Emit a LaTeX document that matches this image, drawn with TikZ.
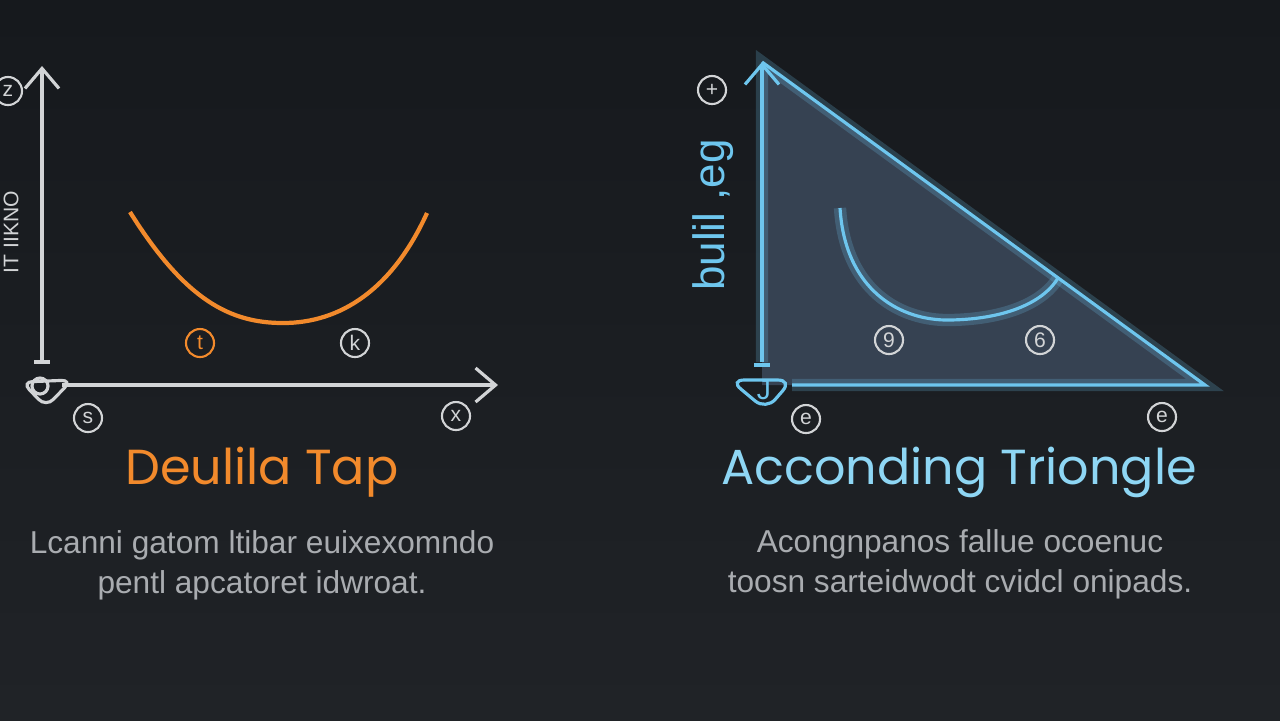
\documentclass[tikz,border=0pt]{standalone}
\usepackage{fontspec}
\setmainfont{Liberation Sans}
\newfontfamily\titlefont{Poppins}
\usetikzlibrary{arrows.meta}
\definecolor{bgtop}{HTML}{16191D}
\definecolor{bgmid}{HTML}{2A2D32}
\definecolor{bgbot}{HTML}{202327}
\definecolor{axisgray}{HTML}{D2D4D6}
\definecolor{curveorange}{HTML}{F28A2C}
\definecolor{glowblue}{HTML}{6EC6EE}
\definecolor{titleblue}{HTML}{8ED6F4}
\definecolor{trifill}{HTML}{364252}
\definecolor{bodygray}{HTML}{A9ACB0}
\tikzset{>={Straight Barb[length=2mm,width=3.4mm]},
  axisline/.style={axisgray,line width=0.9pt},
  blueline/.style={glowblue,line width=0.9pt},
  glow/.style={glowblue,line width=3.5pt,opacity=0.22},
  badge/.style={circle,draw,line width=0.6pt,minimum size=0.28cm,inner sep=0pt,font=\fontsize{6}{6}\selectfont},
  title/.style={font=\titlefont\fontsize{14}{16}\selectfont},
  body/.style={bodygray,font=\fontsize{9}{11.4}\selectfont,align=center}
}
\begin{document}
\begin{tikzpicture}[x=0.01cm,y=-0.01cm]
\useasboundingbox (0,0) rectangle (1280,720);
\shade[top color=bgtop,middle color=bgmid,bottom color=bgbot] (0,0) rectangle (1280,720);
\coordinate (lorig) at (42,385);
\coordinate (ly0) at (42,362);
\coordinate (ly1) at (42,66);
\coordinate (lx0) at (62,385);
\coordinate (lx1) at (498,385);
\draw [axisline,->] (ly0) -- (ly1);
\draw [axisline,->] (lx0) -- (lx1);
\draw [axisline] (34,362) -- (50,362);
\draw [axisline] (40,386) circle (8);
\draw [axisline,rounded corners=3] (22,382) -- (72,380) -- (46,407) -- cycle;
\draw [curveorange,line width=1.2pt] (130,212) .. controls (185,300) and (230,323) .. (283,323) .. controls (340,323) and (392,290) .. (427,213);
\node [badge,curveorange] (lbadge1) at (200,343) {t};
\node [badge,axisgray] (lbadge2) at (355,343) {k};
\node [badge,axisgray] (lbadge3) at (88,418) {s};
\node [badge,axisgray] (lbadge4) at (456,416) {x};
\node [badge,axisgray] (lbadge0) at (8,91) {z};
\node [rotate=90,axisgray,font=\fontsize{6}{6}\selectfont] (llabel) at (11,232) {IT IIKNO};
\node [title,curveorange] (ltitle) at (262,472) {Deulila Tap};
\node [body] (ltext) at (262,565) {Lcanni gatom ltibar euixexomndo\\pentl apcatoret idwroat.};
\coordinate (rtop) at (762,62);
\coordinate (rorig) at (762,385);
\coordinate (rright) at (1205,385);
\coordinate (ry0) at (762,362);
\coordinate (rx0) at (792,385);
\fill [trifill] (rtop) -- (rright) -- (rorig) -- cycle;
\draw [glow] (ry0) -- (rtop) -- (rright) -- (rx0);
\draw [blueline,->] (ry0) -- (rtop);
\draw [blueline] (rtop) -- (rright) -- (rx0);
\draw [blueline] (754,365) -- (770,365);
\draw [blueline,rounded corners=4] (730,380) -- (792,380) -- (766,410) -- cycle;
\node [glowblue,font=\fontsize{8}{8}\selectfont] (rmark) at (764,390) {J};
\draw [glow] (840,208) .. controls (845,290) and (900,321) .. (950,320) .. controls (1010,319) and (1045,300) .. (1058,278);
\draw [blueline] (840,208) .. controls (845,290) and (900,321) .. (950,320) .. controls (1010,319) and (1045,300) .. (1058,278);
\node [badge,axisgray] (rbadge0) at (712,90) {+};
\node [badge,axisgray] (rbadge1) at (889,340) {9};
\node [badge,axisgray] (rbadge2) at (1040,340) {6};
\node [badge,axisgray] (rbadge3) at (806,419) {e};
\node [badge,axisgray] (rbadge4) at (1162,417) {e};
\node [rotate=90,glowblue,font=\fontsize{12.5}{12.5}\selectfont] (rlabel) at (713,215) {bulil ,eg};
\node [title,titleblue] (rtitle) at (959,472) {Acconding Triongle};
\node [body] (rtext) at (960,564) {Acongnpanos fallue ocoenuc\\toosn sarteidwodt cvidcl onipads.};
\end{tikzpicture}
\end{document}
